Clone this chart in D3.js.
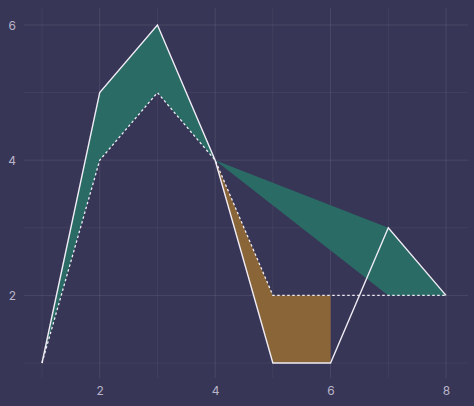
<!DOCTYPE html><html><head><meta charset="utf-8"><script src="https://cdn.jsdelivr.net/npm/d3@7"></script>
<style>body{margin:0;background:#383656}</style></head><body><svg id="c" width="474" height="406"></svg><script>
const xs=[1,2,3,4,5,6,7,8];
const solid=[1,5,6,4,1,1,3,2];
const dashed=[1,4,5,4,2,2,2,2];
// fill polygons as drawn in the reference: [x,y] pairs
const greenA=[[1,1],[2,5],[3,6],[4,4],[3,5],[2,4]];
const greenB=[[4,4],[7,3],[8,2],[7,2]];
const brown=[[4,4],[5,1],[6,1],[6,2],[5,2]];
const xTicks=[2,4,6,8], yTicks=[2,4,6];
const svg=d3.select("#c");
const x=d3.scaleLinear().domain([1,8]).range([42,446]);
const y=d3.scaleLinear().domain([1,6]).range([363,25]);
const g=svg.append("g");
d3.range(1,9).forEach(v=>g.append("line").attr("x1",x(v)).attr("x2",x(v)).attr("y1",8).attr("y2",378).attr("stroke","#ffffff").attr("stroke-opacity",v%2==0?0.09:0.05));
d3.range(1,7).forEach(v=>g.append("line").attr("y1",y(v)).attr("y2",y(v)).attr("x1",24).attr("x2",468).attr("stroke","#ffffff").attr("stroke-opacity",v%2==0?0.09:0.05));
const poly=d3.line().x(d=>x(d[0])).y(d=>y(d[1]));
[[greenA,"#2a6b66"],[greenB,"#2a6b66"],[brown,"#8a6538"]].forEach(([p,c])=>svg.append("path").attr("d",poly(p)+"Z").attr("fill",c));
const ln=d3.line().x((d,i)=>x(xs[i])).y(d=>y(d));
svg.append("path").attr("d",ln(dashed)).attr("fill","none").attr("stroke","#f0ecf5").attr("stroke-width",1.3).attr("stroke-dasharray","2.5,2.5");
svg.append("path").attr("d",ln(solid)).attr("fill","none").attr("stroke","#f0ecf5").attr("stroke-width",1.4);
const ax=svg.append("g").attr("transform","translate(0,392)").call(d3.axisBottom(x).tickValues(xTicks).tickSize(0).tickFormat(d3.format("d")));
const ay=svg.append("g").attr("transform","translate(16,0)").call(d3.axisLeft(y).tickValues(yTicks).tickSize(0).tickFormat(d3.format("d")));
[ax,ay].forEach(a=>{a.select(".domain").remove();a.selectAll("text").attr("fill","#b8b5c8").attr("font-family","Inter, sans-serif").attr("font-size",12);});
ax.selectAll("text").attr("dy","0");
ay.selectAll("text").attr("dy","0.35em").attr("text-anchor","end").attr("x",0);
</script></body></html>
